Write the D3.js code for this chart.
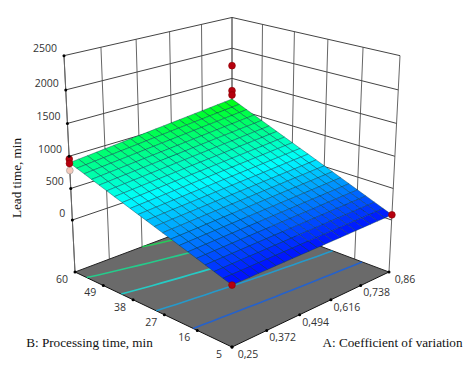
<!DOCTYPE html>
<html>
<head>
<meta charset="utf-8">
<script src="https://cdnjs.cloudflare.com/ajax/libs/d3/7.8.5/d3.min.js"></script>
<style>
  html, body { margin: 0; padding: 0; background: #fff; }
  svg { display: block; }
</style>
</head>
<body>
<svg id="chart"></svg>
<script>
// axis ticks
const aTicks = [0.25, 0.372, 0.494, 0.616, 0.738, 0.86];
const aLabels = ["0,25", "0,372", "0,494", "0,616", "0,738", "0,86"];
const bTicks = [5, 16, 27, 38, 49, 60];
const zTicks = [0, 500, 1000, 1500, 2000, 2500];
const zRange = [-846, 2500];

// surface, one row per B grid line (5 -> 60), one column per A grid line (0.25 -> 0.86)
const surface = [
  [61,62,63,64,65,67,68,69,70,71,72,73,74,75,76,78,79,80,81,82,83],
  [103,105,106,108,110,111,113,115,116,118,120,121,123,125,126,128,130,131,133,135,137],
  [145,147,150,152,154,156,159,161,163,165,168,170,172,174,177,179,181,183,186,188,190],
  [187,190,193,195,198,201,204,207,210,212,215,218,221,224,227,229,232,235,238,241,244],
  [229,232,236,239,243,246,249,253,256,260,263,267,270,273,277,280,284,287,290,294,297],
  [271,275,279,283,287,291,295,299,303,307,311,315,319,323,327,331,335,339,343,347,351],
  [313,318,322,327,331,336,340,345,350,354,359,363,368,372,377,382,386,391,395,400,404],
  [355,360,365,370,376,381,386,391,396,401,406,412,417,422,427,432,437,442,448,453,458],
  [397,403,408,414,420,426,431,437,443,448,454,460,466,471,477,483,489,494,500,506,511],
  [439,445,452,458,464,471,477,483,489,496,502,508,515,521,527,533,540,546,552,559,565],
  [481,488,495,502,508,515,522,529,536,543,550,557,564,570,577,584,591,598,605,612,619],
  [522,529,537,544,552,559,567,574,582,589,597,604,611,619,626,634,641,649,656,664,671],
  [564,572,580,588,596,604,612,620,628,636,644,652,660,668,676,684,692,701,709,717,725],
  [606,615,623,632,640,649,658,666,675,683,692,701,709,718,727,735,744,752,761,770,778],
  [648,657,666,676,685,694,703,712,722,731,740,749,758,767,777,786,795,804,813,823,832],
  [690,700,710,719,729,739,749,758,768,778,788,797,807,817,827,836,846,856,866,875,885],
  [732,742,753,763,773,784,794,804,815,825,835,846,856,866,877,887,897,908,918,928,939],
  [774,785,796,807,818,829,840,850,861,872,883,894,905,916,927,938,949,960,971,981,992],
  [816,828,839,851,862,874,885,897,908,920,931,943,954,966,977,989,1000,1012,1023,1035,1046],
  [858,870,882,894,906,918,930,942,955,967,979,991,1003,1015,1027,1039,1051,1063,1075,1087,1099],
  [900,913,925,938,951,963,976,989,1001,1014,1027,1039,1052,1064,1077,1090,1102,1115,1128,1140,1153]
];

// floor contours
const contourLevels = [250, 440, 630, 830, 1000];

// design points
const pointA = [0.25, 0.25, 0.25, 0.86, 0.86, 0.86, 0.86, 0.25];
const pointB = [60, 60, 60, 60, 60, 60, 5, 5];
const pointZ = [780, 957, 889, 1712, 1294, 1221, 83, 61];
const pointBelow = [true, false, false, false, false, false, false, false];

const w = 474, h = 368;
const cellCount = surface.length - 1;
const svg = d3.select("#chart").attr("width", w).attr("height", h);

const aScale = d3.scaleLinear().domain([aTicks[0], aTicks[5]]).range([0, 1]);
const bScale = d3.scaleLinear().domain([bTicks[0], bTicks[5]]).range([0, 1]);
const zScale = d3.scaleLinear().domain(zRange).range([0, 1]);
const color = d3.scaleLinear().domain([40, 610, 1180])
  .range(["#0000ff", "#00ffff", "#00ff00"]);

// perspective box view, fitted on the box corners
function project(A, B, Z) {
  let a = aScale(A), b = bScale(B), c = zScale(Z);
  let depth = 1 + 0.1194 * (a + b - 1) - 0.0655 * c;
  return [
    232 + 157 * (a - b) / depth,
    (272 - 33.6 * (a + b - 1) - 220 * c) / depth
  ];
}

const line = d3.line();
const [zMin, zMax] = zRange;
const aMin = aTicks[0], aMax = aTicks[5], bMin = bTicks[0], bMax = bTicks[5];

function seg(g, p, q, stroke, width) {
  g.append("path").attr("d", line([p, q])).attr("fill", "none")
    .attr("stroke", stroke).attr("stroke-width", width);
}

// back walls
const walls = svg.append("g");
aTicks.forEach(A => seg(walls, project(A, bMax, zMin), project(A, bMax, zMax), "#666", 1));
bTicks.forEach(B => seg(walls, project(aMax, B, zMin), project(aMax, B, zMax), "#666", 1));
zTicks.forEach(Z => {
  seg(walls, project(aMin, bMax, Z), project(aMax, bMax, Z), "#444", 1);
  seg(walls, project(aMax, bMax, Z), project(aMax, bMin, Z), "#444", 1);
});

// floor
const floorCorners = [[aMin, bMax], [aMin, bMin], [aMax, bMin], [aMax, bMax]];
svg.append("path")
  .attr("d", line(floorCorners.map(d => project(d[0], d[1], zMin))) + "Z")
  .attr("fill", "#6a6a6a");
seg(svg, project(aMin, bMax, zMin), project(aMin, bMin, zMin), "#111", 1);
seg(svg, project(aMin, bMin, zMin), project(aMax, bMin, zMin), "#111", 1);
seg(svg, project(aMin, bMax, zMin), project(aMax, bMax, zMin), "#222", 1);
seg(svg, project(aMax, bMin, zMin), project(aMax, bMax, zMin), "#222", 1);

// contours: walk each A column and find where the level crosses between B rows
const aStep = (aMax - aMin) / cellCount, bStep = (bMax - bMin) / cellCount;
contourLevels.forEach(level => {
  let pts = [];
  d3.range(cellCount + 1).forEach(i => {
    for (let j = 0; j < cellCount; j++) {
      let z0 = surface[j][i], z1 = surface[j + 1][i];
      if (z0 <= level && level < z1) {
        let B = bMin + (j + (level - z0) / (z1 - z0)) * bStep;
        pts.push(project(aMin + i * aStep, B, zMin));
        break;
      }
    }
  });
  svg.append("path").attr("d", line(pts)).attr("fill", "none")
    .attr("stroke", color(level)).attr("stroke-opacity", 0.65).attr("stroke-width", 1.6);
});

// left axis line
seg(svg, project(aMin, bMax, zMin), project(aMin, bMax, zMax), "#666", 1);

function drawPoints(below) {
  let g = svg.append("g");
  pointZ.forEach((z, i) => {
    if (pointBelow[i] !== below) return;
    let p = project(pointA[i], pointB[i], z);
    g.append("circle").attr("cx", p[0]).attr("cy", p[1]).attr("r", 3.4)
      .attr("fill", below ? "#f3c9bb" : "#b5000f")
      .attr("stroke", below ? "#999" : "#8a0000").attr("stroke-width", 0.6);
  });
}
drawPoints(true);

// surface mesh, far cells first
const mesh = svg.append("g");
let cells = [];
d3.range(cellCount).forEach(j => d3.range(cellCount).forEach(i => cells.push([i, j])));
cells.sort((p, q) => (q[0] + q[1]) - (p[0] + p[1]));
cells.forEach(([i, j]) => {
  let A0 = aMin + i * aStep, A1 = A0 + aStep, B0 = bMin + j * bStep, B1 = B0 + bStep;
  let corners = [
    project(A0, B0, surface[j][i]),
    project(A1, B0, surface[j][i + 1]),
    project(A1, B1, surface[j + 1][i + 1]),
    project(A0, B1, surface[j + 1][i])
  ];
  let mean = (surface[j][i] + surface[j][i + 1] + surface[j + 1][i + 1] + surface[j + 1][i]) / 4;
  mesh.append("path").attr("d", line(corners) + "Z")
    .attr("fill", color(mean))
    .attr("stroke", "#063a4a").attr("stroke-opacity", 0.6).attr("stroke-width", 0.7);
});

drawPoints(false);

// axis tick dots
const dots = [];
zTicks.forEach(Z => dots.push(project(aMin, bMax, Z)));
bTicks.forEach(B => dots.push(project(aMin, B, zMin)));
aTicks.forEach(A => dots.push(project(A, bMin, zMin)));
svg.append("g").selectAll("circle").data(dots).enter().append("circle")
  .attr("cx", d => d[0]).attr("cy", d => d[1]).attr("r", 1.5).attr("fill", "#000");

// tick labels
function tickLabel(p, dx, dy, text, anchor) {
  svg.append("text").attr("x", p[0] + dx).attr("y", p[1] + dy)
    .attr("text-anchor", anchor).attr("dominant-baseline", "middle")
    .attr("font-family", "'Open Sans', 'Noto Sans', sans-serif").attr("font-size", 10.5)
    .attr("fill", "#333").text(text);
}
zTicks.forEach(Z => tickLabel(project(aMin, bMax, Z), -7, -6, Z, "end"));
bTicks.forEach(B => tickLabel(project(aMin, B, zMin), -13, 8, B, "middle"));
aTicks.forEach((A, i) => tickLabel(project(A, bMin, zMin), 16, 8, aLabels[i], "middle"));

// axis titles
function title(x, y, text, rotate) {
  svg.append("text").attr("transform", `translate(${x},${y}) rotate(${rotate})`)
    .attr("text-anchor", "middle")
    .attr("font-family", "'Liberation Serif', serif").attr("font-size", 13.2)
    .attr("fill", "#111").text(text);
}
title(21, 178, "Lead time, min", -90);
title(89.5, 347, "B: Processing time, min", 0);
title(392.5, 347, "A: Coefficient of variation", 0);
</script>
</body>
</html>
